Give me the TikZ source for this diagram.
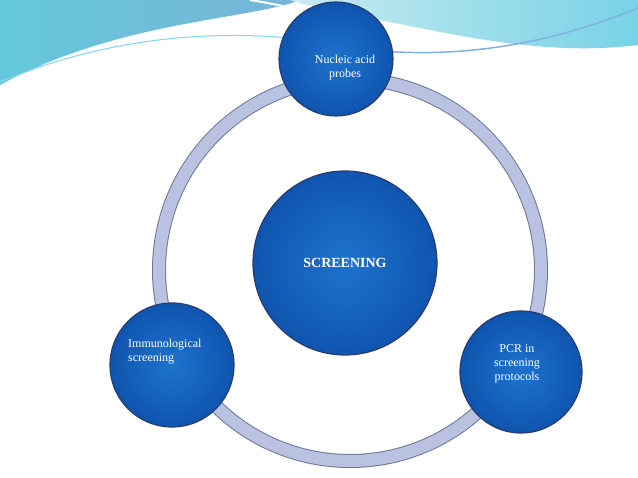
\documentclass[tikz,border=0pt]{standalone}
\usepackage{fontspec}
\setmainfont{Liberation Serif}
\definecolor{ringdark}{RGB}{110,120,150}
\definecolor{ringlight}{RGB}{185,195,225}
\definecolor{bubdraw}{RGB}{40,60,110}
\definecolor{bubin}{RGB}{30,115,205}
\definecolor{bubout}{RGB}{15,85,175}
\definecolor{wA}{RGB}{100,200,220}
\definecolor{wB}{RGB}{120,180,215}
\definecolor{wC}{RGB}{200,235,240}
\definecolor{wD}{RGB}{120,210,230}
\begin{document}
\begin{tikzpicture}[x=1pt,y=-1pt,
  bub/.style={circle,draw=bubdraw,line width=1.2pt,
    inner color=bubin,outer color=bubout,
    text=white,align=center,font=\fontsize{12}{14}\selectfont}]
\useasboundingbox (0,0) rectangle (638,478);
\fill[white] (0,0) rectangle (638,478);
% waves
\shade[left color=wA,right color=wB] (0,0) -- (300,0) .. controls (250,20) and (120,20) .. (0,85) -- cycle;
\shade[left color=wC,right color=wD] (290,0) -- (638,0) -- (638,45) .. controls (560,55) and (480,40) .. (420,28) .. controls (370,18) and (320,10) .. (290,0) -- cycle;
\draw[cyan!50,line width=1pt] (0,82) .. controls (100,40) and (200,30) .. (290,38);
\draw[cyan!60!blue!50,line width=1.5pt] (370,50) .. controls (470,60) and (560,40) .. (638,8);
\draw[white,line width=2pt] (250,0) .. controls (300,8) and (330,18) .. (370,28);
% ring
\draw[ringdark,line width=14pt] (350,270) circle (191);
\draw[ringlight,line width=12pt] (350,270) circle (191);
% nodes
\node[bub,minimum size=184pt,font=\bfseries\fontsize{14}{16}\selectfont] (c) at (345,263) {SCREENING};
\node[bub,minimum size=114pt] (n) at (336,59) {};
\node[white,align=center,font=\fontsize{12}{14}\selectfont] (nt) at (345,68) {Nucleic acid\\probes};
\node[bub,minimum size=124pt] (l) at (172,365) {};
\node[white,align=left,anchor=north west,font=\fontsize{12}{14}\selectfont,inner sep=0pt] (lt) at (128,339) {Immunological\\screening};
\node[bub,minimum size=122pt] (r) at (521,372) {};
\node[white,align=center,font=\fontsize{12}{14}\selectfont] (rt) at (517,364) {PCR in\\screening\\protocols};
\end{tikzpicture}
\end{document}
